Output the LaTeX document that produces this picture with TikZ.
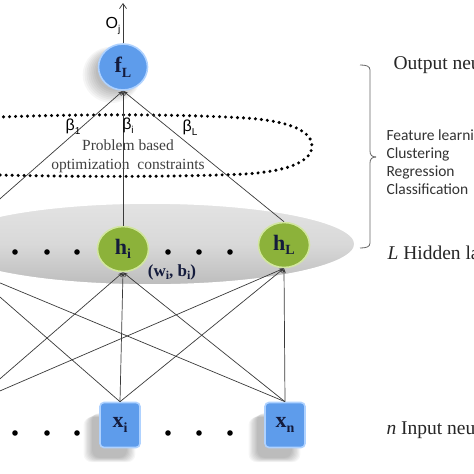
\documentclass[tikz,border=0pt]{standalone}
\usepackage{fontspec}
\setmainfont{Liberation Serif}
\newfontfamily\calibf{Carlito}
\newfontfamily\sansf{Liberation Sans}
\usetikzlibrary{arrows.meta,shapes.geometric}
\definecolor{nodeblue}{HTML}{5E9CEB}
\definecolor{rimblue}{HTML}{AFD2FF}
\definecolor{nodegreen}{HTML}{8CB23A}
\definecolor{rimgreen}{HTML}{D2E6A0}
\definecolor{navy}{HTML}{141B3C}
\definecolor{linegray}{HTML}{3A3A3A}
\tikzset{
  fnode/.style={ellipse, fill=nodeblue, draw=rimblue, line width=1.6pt, minimum width=49pt, minimum height=46pt, inner sep=0pt, text=navy, font=\fontsize{22}{22}\selectfont\bfseries},
  hnode/.style={ellipse, fill=nodegreen, draw=rimgreen, line width=1.6pt, minimum width=51pt, minimum height=45pt, inner sep=0pt, text=navy, font=\fontsize{22}{22}\selectfont\bfseries},
  xnode/.style={rectangle, rounded corners=4pt, fill=nodeblue, draw=rimblue, line width=1.6pt, minimum width=40pt, minimum height=45pt, inner sep=0pt, text=navy, font=\fontsize{22}{22}\selectfont\bfseries},
  conn/.style={draw=linegray, line width=0.7pt, -{Stealth[length=5pt,width=3.6pt]}},
  dotrow/.style={fill=black},
  dotline/.style={draw=black, line width=3.4pt, line cap=round, dash pattern=on 0pt off 6pt},
  beta/.style={font=\sansf\fontsize{16}{16}\selectfont, text=black},
  side/.style={anchor=base west, font=\fontsize{19.5}{20}\selectfont, text=black!85},
  task/.style={anchor=base west, font=\calibf\fontsize{15.5}{18}\selectfont, text=black!80},
  shadowlayer/.style={fill=black, opacity=0.035}
}
\newcommand{\sbs}[1]{\raisebox{-0.45ex}{\fontsize{14}{14}\selectfont #1}}
\newcommand{\sbb}[1]{\raisebox{-0.45ex}{\fontsize{10}{10}\selectfont #1}}
\newcommand{\sbw}[1]{\raisebox{-0.45ex}{\fontsize{12}{12}\selectfont #1}}
\begin{document}
\begin{tikzpicture}[x=1pt,y=-1pt]
\clip (0,0) rectangle (474,474);
\fill[white] (0,0) rectangle (474,474);

% hidden layer band
\shade[top color=gray!22, bottom color=gray!52, middle color=gray!30] (150,244) ellipse [x radius=205pt, y radius=41pt];
\draw[white, line width=1.6pt] (150,244) ellipse [x radius=205pt, y radius=41pt];

% dotted constraint ellipse
\draw[dotline] (-80,146) .. controls (-80,122) and (-40,117) .. (0,117) .. controls (80,114) and (180,114) .. (245,118) .. controls (292,121) and (312,132) .. (312,146) .. controls (312,160) and (292,171) .. (245,174) .. controls (180,177) and (80,177) .. (0,175) .. controls (-40,175) and (-80,170) .. cycle;

% soft shadows
\foreach \k in {0,...,7}{
  \fill[shadowlayer] (116-\k*0.6,72+\k*0.4) ellipse [x radius=20pt+\k pt*1.3, y radius=19pt+\k pt*1.3];
  \fill[shadowlayer, rounded corners=8pt] (92-\k*1.2,413+\k*0.6) rectangle (127+\k*1.2,458+\k*0.6);
  \fill[shadowlayer, rounded corners=8pt] (257-\k*1.2,413+\k*0.6) rectangle (292+\k*1.2,458+\k*0.6);
}

% off-frame ends
\coordinate (h1t) at (-31,226);
\coordinate (h1b) at (-31,270);
\coordinate (x1t) at (-28,403);
\coordinate (oj) at (123,3);

% nodes
\node[fnode] (fL) at (123,67) {f\sbs{L}};
\node[hnode] (hi) at (123,249) {h\sbs{i}};
\node[hnode] (hL) at (284,245) {h\sbs{L}};
\node[xnode] (xi) at (120,425) {x\sbs{i}};
\node[xnode] (xn) at (285,425) {x\sbs{n}};

% connectors input -> hidden
\draw[conn] (xi.north) -- (h1b);
\draw[conn] (xi.north) -- (hi.south);
\draw[conn] (xi.north) -- (hL.south);
\draw[conn] (xn.north) -- (h1b);
\draw[conn] (xn.north) -- (hi.south);
\draw[conn] (xn.north) -- (hL.south);
\draw[conn] (x1t) -- (hi.south);
\draw[conn] (x1t) -- (hL.south);

% hidden -> output
\draw[conn] (h1t) -- (fL.south);
\draw[conn] (hi.north) -- (fL.south);
\draw[conn] (hL.north) -- (fL.south);
\draw[draw=linegray, line width=0.7pt, -{Straight Barb[length=5pt,width=7pt]}] (fL.north) -- (oj);

% dots
\foreach \x in {15,47,77,168,199,230}{
  \fill[dotrow] (\x,252) circle (2.8pt);
  \fill[dotrow] (\x,433) circle (2.8pt);
}

% labels
\node[beta] (lo) at (113,26) {O\sbb{j}};
\node[beta] (b1) at (73,127) {β\sbb{1}};
\node[beta] (bi) at (128,126) {β\sbb{i}};
\node[beta] (bL) at (190,128) {β\sbb{L}};
\node[font=\fontsize{15.5}{19}\selectfont, text=black!75, align=center] (pb) at (128,156) {Problem based\\optimization\ \ constraints};
\node[font=\fontsize{17}{17}\selectfont\bfseries, text=navy] (wb) at (172,272) {(w\sbw{i}, b\sbw{i})};

% bracket
\draw[draw=black!60, line width=0.8pt] (360,65) .. controls (366,65) and (370,66) .. (370,70) -- (370,151) .. controls (370,155) and (372,157) .. (376,157);
\draw[draw=black!60, line width=0.8pt] (376,157) .. controls (372,157) and (370,159) .. (370,163) -- (370,243) .. controls (370,247) and (366,248) .. (360,248);

\node[side] (outn) at (390,69) {Output neu};
\node[task] (t1) at (383,140) {Feature learnin};
\node[task] (t2) at (383,158) {Clustering};
\node[task] (t3) at (383,176) {Regression};
\node[task] (t4) at (383,194) {Classification};
\node[side] (hidn) at (384,259) {\textit{L} Hidden la};
\node[side] (inn) at (383,434) {\textit{n} Input neu};
\end{tikzpicture}
\end{document}
